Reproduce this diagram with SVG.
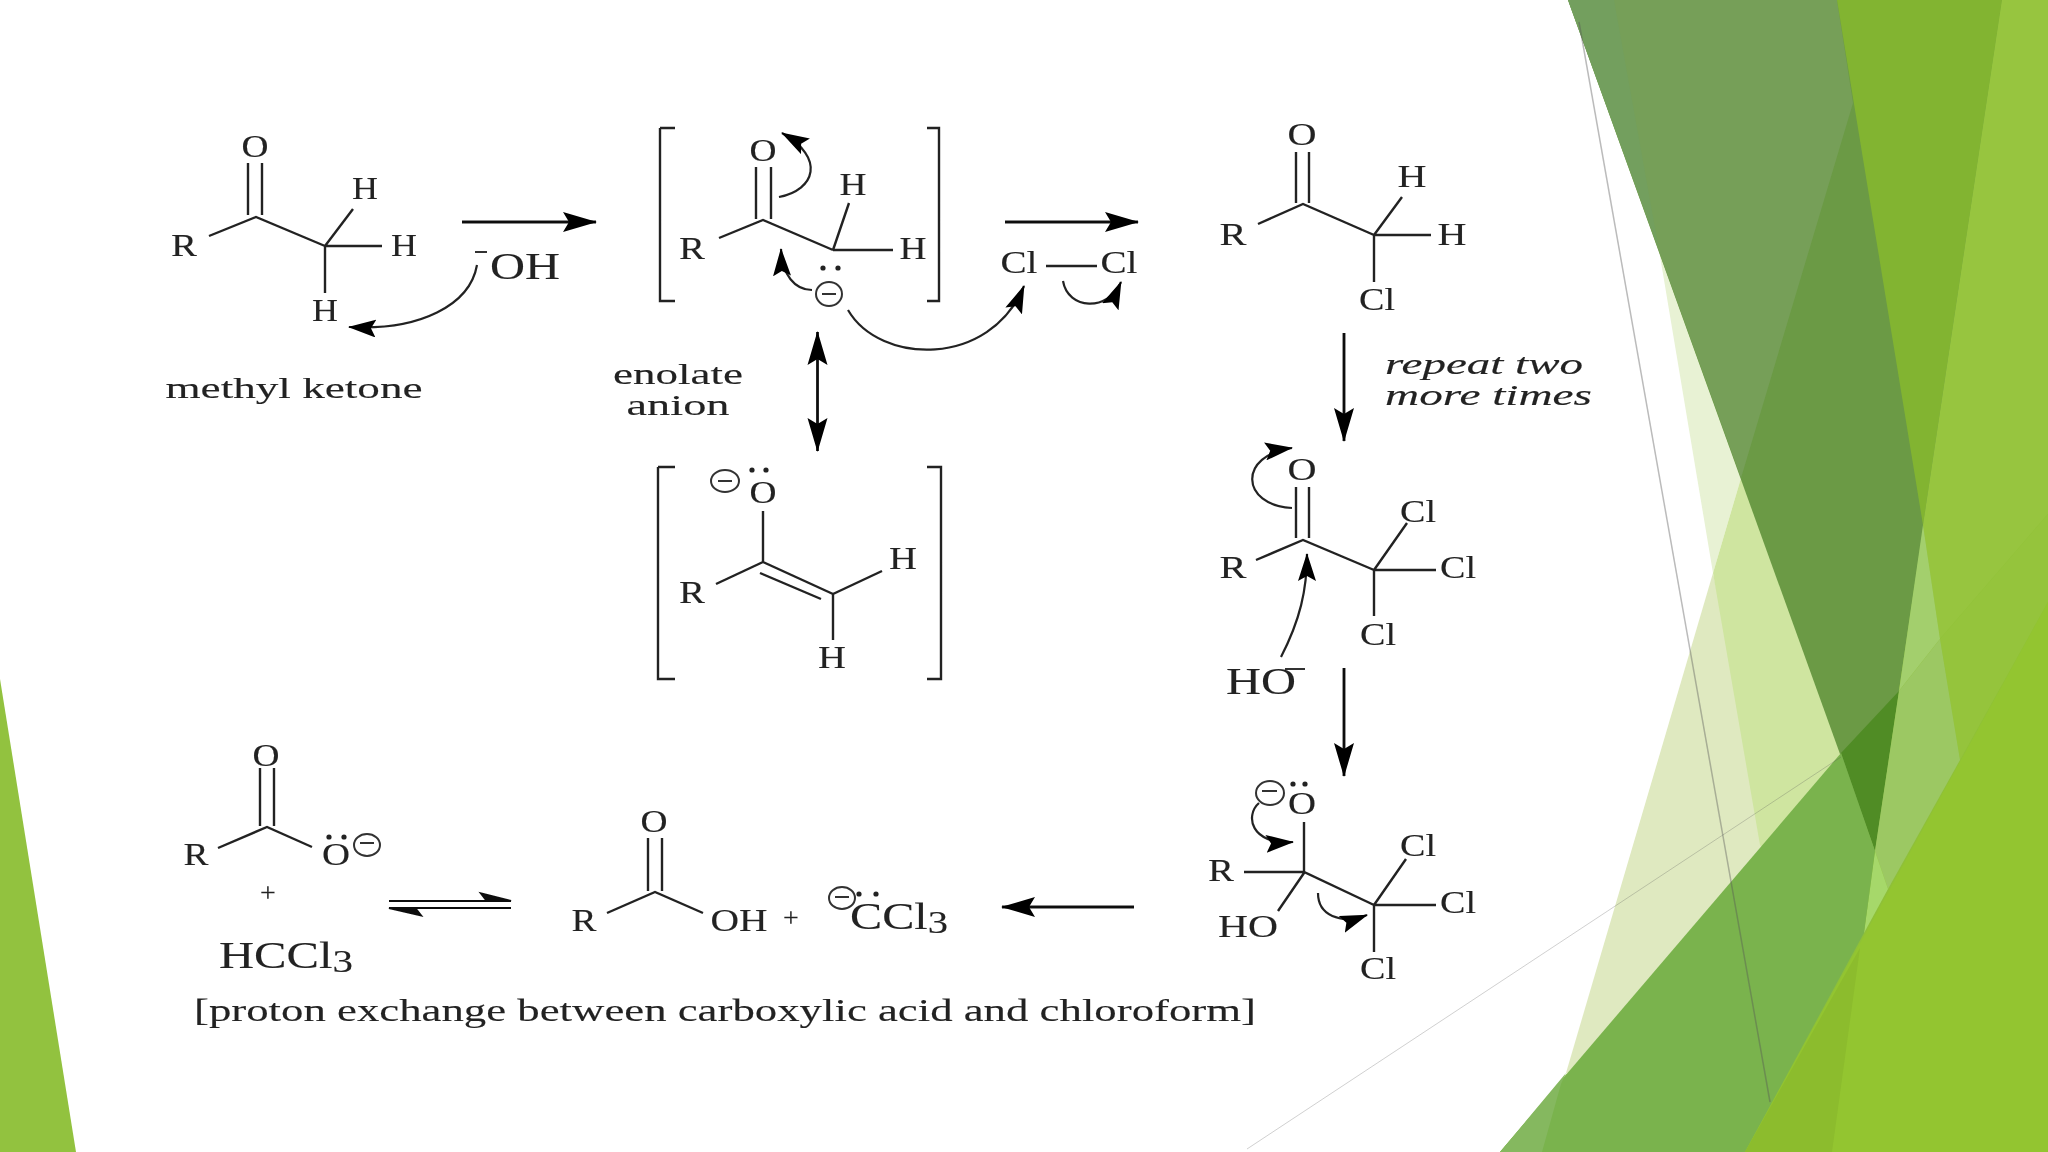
<svg xmlns="http://www.w3.org/2000/svg" width="2048" height="1152" viewBox="0 0 2048 1152">
<style>
.t{font-family:"Liberation Serif","Times New Roman",serif;font-size:32px;fill:#222;stroke:#222;stroke-width:.12;text-anchor:middle}
.l{font-size:30px}
.b{font-size:38px}
.i{font-style:italic;font-size:29px;text-anchor:start}
.s{font-size:28px}
.sub{font-size:32px}
.bond{stroke:#222;stroke-width:2.4;fill:none}
.curve{stroke:#222;stroke-width:2.2;fill:none;marker-end:url(#ch)}
.arrow{stroke:#111;stroke-width:2.8;fill:none;marker-end:url(#sh)}
.chg{stroke:#333;stroke-width:2;fill:none}
.dot{fill:#222}
</style>
<defs>
<marker id="sh" markerUnits="userSpaceOnUse" markerWidth="34" markerHeight="22" viewBox="0 0 34 22" refX="33" refY="11" orient="auto-start-reverse"><path d="M0 1L34 11L0 21L6 11Z" fill="#000"/></marker>
<marker id="ch" markerUnits="userSpaceOnUse" markerWidth="28" markerHeight="18" viewBox="0 0 28 18" refX="27" refY="9" orient="auto"><path d="M0 0L28 9L0 18L5 9Z" fill="#000"/></marker>
<filter id="soft" x="0" y="0" width="100%" height="100%"><feGaussianBlur stdDeviation="0.45"/></filter>
</defs>
<rect width="2048" height="1152" fill="#fff"/>
<g id="background">
<polygon points="0,679 76,1152 0,1152" fill="#92c23f"/>
<polygon points="1741,478 1837,0 2048,0 2048,1152 1500,1152 1841,753" fill="#8fc038"/>
<polygon points="1659,250 1741,478 1713,573" fill="#e8f2d4"/>
<polygon points="1713,573 1775,860 1580,1085 1566,1073" fill="#dfe9c0"/>
<polygon points="1741,478 1850,760 1770,860 1760,845 1713,573" fill="#cfe5a0"/>
<polygon points="1568,0 2002,0 1875,851" fill="#6b9a45"/>
<polygon points="1568,0 1837,0 1853,103 1741,478" fill="#769f58"/>
<polygon points="1568,0 1614,0 1659,250" fill="#739f5e"/>
<polygon points="1837,0 2002,0 1923,525" fill="#82b431"/>
<polygon points="2002,0 2048,0 2048,514 1940,639 1923,525" fill="#97c53f"/>
<polygon points="1940,639 2048,514 2048,602 1960,760" fill="#95c43c"/>
<polygon points="1841,753 1899,691 1875,851" fill="#508c25"/>
<polygon points="1923,525 1940,639 1899,691" fill="#a3cf6d"/>
<polygon points="1899,691 1940,639 1960,760 1888,889 1875,851" fill="#9cc863"/>
<polygon points="1875,851 1888,889 1864,933" fill="#a6d86a"/>
<polygon points="1841,753 1500,1152 1745,1152 1864,933 1875,851" fill="#7ab34d"/>
<polygon points="1566,1073 1500,1152 1542,1152 1561,1084" fill="#85b85f"/>
<polygon points="2048,602 1745,1152 2048,1152" fill="#93c530"/>
<polygon points="1745,1152 1832,1152 1860,948" fill="#8cbc2d"/>
<line x1="1579" y1="22" x2="1770" y2="1102" stroke="#555" stroke-opacity=".4" stroke-width="1.5"/>
<line x1="1247" y1="1149" x2="1841" y2="757" stroke="#555" stroke-opacity=".28"/>
</g>
<g filter="url(#soft)">
<g id="methyl-ketone">
<path class="bond" d="M248 163V215M262 163V215M209 236L256 217L325 246M353 209L325 246M325 246H382M325 246V293"/>
<text class="t" x="255" y="157" textLength="27" lengthAdjust="spacingAndGlyphs">O</text>
<text class="t" x="365" y="199" textLength="26" lengthAdjust="spacingAndGlyphs">H</text>
<text class="t" x="404" y="256" textLength="26" lengthAdjust="spacingAndGlyphs">H</text>
<text class="t" x="325" y="321" textLength="26" lengthAdjust="spacingAndGlyphs">H</text>
<text class="t" x="184" y="256" textLength="26" lengthAdjust="spacingAndGlyphs">R</text>
<text class="t l" x="294" y="398" textLength="257" lengthAdjust="spacingAndGlyphs">methyl ketone</text>
</g>
<g id="hydroxide">
<text class="t b" x="525" y="279" textLength="70" lengthAdjust="spacingAndGlyphs">OH</text>
<line class="chg" x1="475" y1="252" x2="487" y2="252"/>
</g>
<g id="enolate-carbanion">
<path class="bond" d="M660 128H675M660 128V301H675M927 128H939V301H927M756 167V219M771 167V219M719 238L763 220L833 250M849 203L833 250M833 250H893"/>
<text class="t" x="763" y="161" textLength="27" lengthAdjust="spacingAndGlyphs">O</text>
<text class="t" x="853" y="195" textLength="27" lengthAdjust="spacingAndGlyphs">H</text>
<text class="t" x="913" y="259" textLength="27" lengthAdjust="spacingAndGlyphs">H</text>
<text class="t" x="692" y="259" textLength="26" lengthAdjust="spacingAndGlyphs">R</text>
<ellipse class="chg" cx="829" cy="294" rx="13" ry="12"/><line class="chg" x1="822" y1="294" x2="836" y2="294"/>
<circle class="dot" cx="823" cy="268" r="2.6"/><circle class="dot" cx="838" cy="268" r="2.6"/>
<text class="t l" x="678" y="384" textLength="130" lengthAdjust="spacingAndGlyphs">enolate</text>
<text class="t l" x="678" y="415" textLength="103" lengthAdjust="spacingAndGlyphs">anion</text>
</g>
<g id="enolate-oxyanion">
<path class="bond" d="M658 467H675M658 467V679H675M927 467H941V679H927M763 511V562M716 584L763 562L833 594M760 573L821 599M833 594L882 571M833 594V640"/>
<text class="t" x="763" y="503" textLength="27" lengthAdjust="spacingAndGlyphs">O</text>
<text class="t" x="903" y="569" textLength="28" lengthAdjust="spacingAndGlyphs">H</text>
<text class="t" x="832" y="668" textLength="28" lengthAdjust="spacingAndGlyphs">H</text>
<text class="t" x="692" y="603" textLength="26" lengthAdjust="spacingAndGlyphs">R</text>
<ellipse class="chg" cx="725" cy="481" rx="14" ry="11"/><line class="chg" x1="718" y1="481" x2="732" y2="481"/>
<circle class="dot" cx="752" cy="470" r="2.6"/><circle class="dot" cx="766" cy="470" r="2.6"/>
</g>
<g id="chlorine">
<line class="bond" x1="1046" y1="266" x2="1097" y2="266"/>
<text class="t" x="1019" y="273" textLength="37" lengthAdjust="spacingAndGlyphs">Cl</text>
<text class="t" x="1119" y="273" textLength="37" lengthAdjust="spacingAndGlyphs">Cl</text>
</g>
<g id="chloro-ketone">
<path class="bond" d="M1296 152V203M1309 152V203M1258 224L1303 204L1374 235M1402 197L1374 235M1374 235H1431M1374 235V282"/>
<text class="t" x="1302" y="145" textLength="29" lengthAdjust="spacingAndGlyphs">O</text>
<text class="t" x="1412" y="187" textLength="29" lengthAdjust="spacingAndGlyphs">H</text>
<text class="t" x="1452" y="245" textLength="29" lengthAdjust="spacingAndGlyphs">H</text>
<text class="t" x="1233" y="245" textLength="27" lengthAdjust="spacingAndGlyphs">R</text>
<text class="t" x="1377" y="310" textLength="36" lengthAdjust="spacingAndGlyphs">Cl</text>
<text class="t i" x="1385" y="374" textLength="198" lengthAdjust="spacingAndGlyphs">repeat two</text>
<text class="t i" x="1385" y="405" textLength="207" lengthAdjust="spacingAndGlyphs">more times</text>
</g>
<g id="trichloro-ketone">
<path class="bond" d="M1296 487V538M1309 487V538M1256 560L1303 540L1374 570M1407 523L1374 570M1374 570H1436M1374 570V616"/>
<text class="t" x="1302" y="480" textLength="29" lengthAdjust="spacingAndGlyphs">O</text>
<text class="t" x="1418" y="522" textLength="36" lengthAdjust="spacingAndGlyphs">Cl</text>
<text class="t" x="1458" y="578" textLength="36" lengthAdjust="spacingAndGlyphs">Cl</text>
<text class="t" x="1378" y="645" textLength="36" lengthAdjust="spacingAndGlyphs">Cl</text>
<text class="t" x="1233" y="578" textLength="27" lengthAdjust="spacingAndGlyphs">R</text>
<text class="t b" x="1261" y="694" textLength="70" lengthAdjust="spacingAndGlyphs">HO</text>
<line class="chg" x1="1285" y1="669" x2="1305" y2="669"/>
</g>
<g id="tetrahedral-intermediate">
<path class="bond" d="M1304 822V873M1244 872H1304L1374 905M1406 859L1374 905M1374 905H1436M1374 905V952M1304 873L1278 911"/>
<text class="t" x="1302" y="814" textLength="28" lengthAdjust="spacingAndGlyphs">O</text>
<ellipse class="chg" cx="1270" cy="793" rx="14" ry="12"/><line class="chg" x1="1262" y1="791" x2="1277" y2="791"/>
<circle class="dot" cx="1293" cy="784" r="2.6"/><circle class="dot" cx="1305" cy="784" r="2.6"/>
<text class="t" x="1221" y="881" textLength="26" lengthAdjust="spacingAndGlyphs">R</text>
<text class="t" x="1418" y="856" textLength="36" lengthAdjust="spacingAndGlyphs">Cl</text>
<text class="t" x="1458" y="913" textLength="36" lengthAdjust="spacingAndGlyphs">Cl</text>
<text class="t" x="1378" y="979" textLength="36" lengthAdjust="spacingAndGlyphs">Cl</text>
<text class="t" x="1248" y="937" textLength="60" lengthAdjust="spacingAndGlyphs">HO</text>
</g>
<g id="carboxylic-acid">
<path class="bond" d="M648 838V891M662 838V891M607 913L655 892L703 913"/>
<text class="t" x="654" y="832" textLength="27" lengthAdjust="spacingAndGlyphs">O</text>
<text class="t" x="584" y="931" textLength="25" lengthAdjust="spacingAndGlyphs">R</text>
<text class="t" x="739" y="931" textLength="57" lengthAdjust="spacingAndGlyphs">OH</text>
<text class="t s" x="791" y="927">+</text>
</g>
<g id="trichloromethyl-anion">
<ellipse class="chg" cx="842" cy="898" rx="13" ry="11"/><line class="chg" x1="835" y1="897" x2="849" y2="897"/>
<circle class="dot" cx="859" cy="894" r="2.6"/><circle class="dot" cx="876" cy="894" r="2.6"/>
<text class="t b" x="899" y="929" textLength="98" lengthAdjust="spacingAndGlyphs">CCl<tspan class="sub" dy="4">3</tspan></text>
</g>
<g id="carboxylate">
<path class="bond" d="M260 768V826M274 768V826M218 848L267 827L312 847"/>
<text class="t" x="266" y="766" textLength="27" lengthAdjust="spacingAndGlyphs">O</text>
<text class="t" x="196" y="865" textLength="25" lengthAdjust="spacingAndGlyphs">R</text>
<text class="t" x="336" y="865" textLength="28" lengthAdjust="spacingAndGlyphs">O</text>
<circle class="dot" cx="329" cy="837" r="2.6"/><circle class="dot" cx="344" cy="837" r="2.6"/>
<ellipse class="chg" cx="367" cy="845" rx="13" ry="11"/><line class="chg" x1="360" y1="843" x2="374" y2="843"/>
<text class="t s" x="268" y="902">+</text>
<text class="t b" x="286" y="968" textLength="134" lengthAdjust="spacingAndGlyphs">HCCl<tspan class="sub" dy="4">3</tspan></text>
<text class="t" x="725" y="1021" textLength="1062" lengthAdjust="spacingAndGlyphs">[proton exchange between carboxylic acid and chloroform]</text>
</g>
<g id="connectors">
<line class="arrow" x1="462" y1="222" x2="596" y2="222"/>
<line class="arrow" x1="1005" y1="222" x2="1138" y2="222"/>
<line class="arrow" x1="1344" y1="333" x2="1344" y2="441"/>
<line class="arrow" x1="1344" y1="668" x2="1344" y2="776"/>
<line class="arrow" x1="1134" y1="907" x2="1002" y2="907"/>
<path class="arrow" style="marker-start:url(#sh)" d="M817.5 332V451"/>
<path d="M389 901H511L481 893.5L486 900" fill="#111" stroke="#111" stroke-width="2"/>
<path d="M511 908H389L421 915.5L416 909" fill="#111" stroke="#111" stroke-width="2"/>
<path class="curve" d="M477 265C470 305 420 331 349 327"/>
<path class="curve" d="M779 197C815 190 826 158 782 133"/>
<path class="curve" d="M812 290C795 290 782 275 781 249"/>
<path class="curve" d="M848 310C880 365 990 368 1024 286"/>
<path class="curve" d="M1063 281C1068 310 1108 312 1121 282"/>
<path class="curve" d="M1292 508C1240 505 1238 455 1292 448"/>
<path class="curve" d="M1281 657C1300 620 1307 590 1307 554"/>
<path class="curve" d="M1259 803C1245 815 1250 845 1293 842"/>
<path class="curve" d="M1318 893C1318 915 1340 925 1367 915"/>
</g>
</g>
</svg>
